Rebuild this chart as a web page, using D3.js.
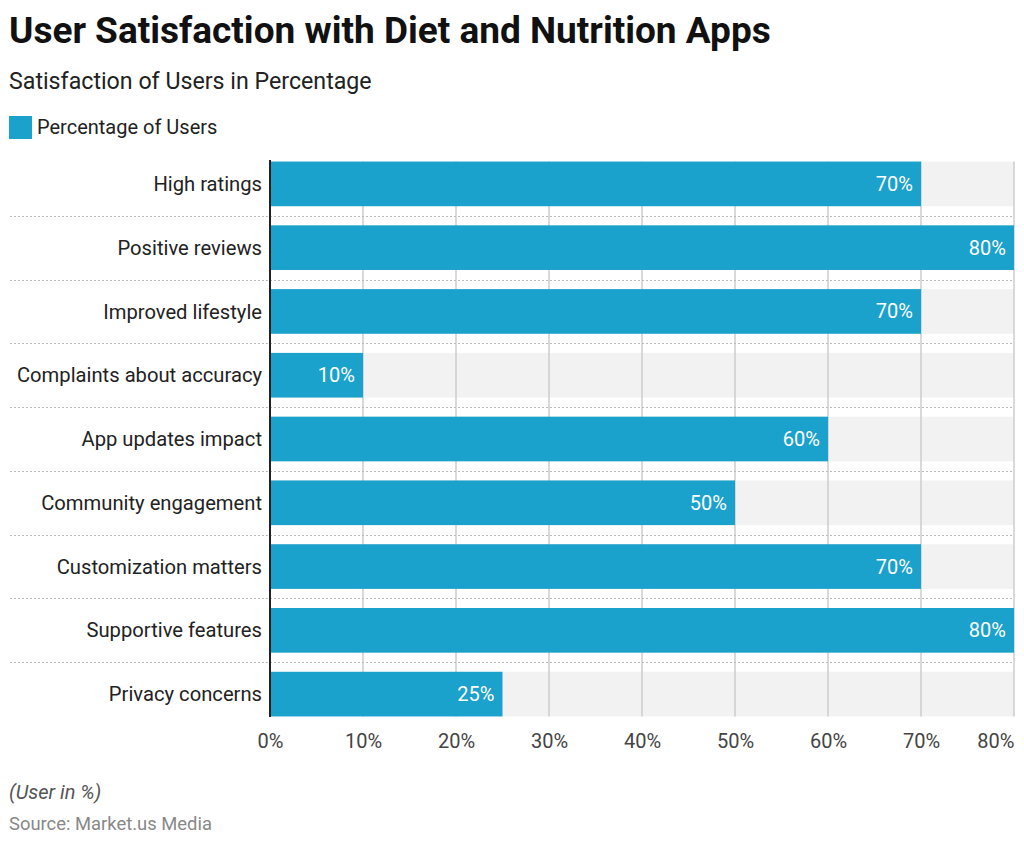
<!DOCTYPE html>
<html>
<head>
<meta charset="utf-8">
<script src="https://cdn.jsdelivr.net/npm/d3@7"></script>
<style>
  body { margin: 0; background: #fff; font-family: Roboto, sans-serif; }
</style>
</head>
<body>
<div id="chart"></div>
<script>
// data
const categories = ["High ratings", "Positive reviews", "Improved lifestyle", "Complaints about accuracy",
  "App updates impact", "Community engagement", "Customization matters", "Supportive features", "Privacy concerns"];
const values = [70, 80, 70, 10, 60, 50, 70, 80, 25];
const xTicks = [0, 10, 20, 30, 40, 50, 60, 70, 80];
const seriesName = "Percentage of Users";

const W = 1024, H = 843;
const margin = { top: 152, right: 10, bottom: 117, left: 270 };
const barColor = "#1aa1cc";

const svg = d3.select("#chart").append("svg")
  .attr("width", W).attr("height", H)
  .style("font-family", "Roboto, sans-serif");

// titles
svg.append("text").attr("x", 9).attr("y", 43)
  .attr("font-size", 37).attr("font-weight", 700).attr("fill", "#111")
  .text("User Satisfaction with Diet and Nutrition Apps");
svg.append("text").attr("x", 9).attr("y", 89)
  .attr("font-size", 23.2).attr("fill", "#222")
  .text("Satisfaction of Users in Percentage");

// legend
svg.append("rect").attr("x", 9).attr("y", 116).attr("width", 23).attr("height", 23).attr("fill", barColor);
svg.append("text").attr("x", 37).attr("y", 134)
  .attr("font-size", 20).attr("fill", "#222").text(seriesName);

const x = d3.scaleLinear().domain([0, 80]).range([margin.left, W - margin.right]);
const y = d3.scaleBand().domain(categories).range([margin.top, H - margin.bottom]).paddingInner(0.3).paddingOuter(0.15);

// background tracks
svg.append("g").selectAll("rect").data(categories).join("rect")
  .attr("x", x(0)).attr("y", d => y(d))
  .attr("width", x(80) - x(0)).attr("height", y.bandwidth())
  .attr("fill", "#f2f2f2");

// vertical grid
svg.append("g").selectAll("line").data(xTicks.slice(1)).join("line")
  .attr("x1", d => x(d)).attr("x2", d => x(d))
  .attr("y1", y(categories[0])).attr("y2", y(categories[categories.length - 1]) + y.bandwidth())
  .attr("stroke", "#cccccc").attr("stroke-width", 1.5);

// dotted row separators
const sep = categories.slice(1).map(d => y(d) - y.step() * y.paddingInner() / 2);
svg.append("g").selectAll("line").data(sep).join("line")
  .attr("x1", 10).attr("x2", x(80))
  .attr("y1", d => Math.round(d) + 0.5).attr("y2", d => Math.round(d) + 0.5)
  .attr("stroke", "#bbb").attr("stroke-width", 1).attr("stroke-dasharray", "2,2");

// bars
svg.append("g").selectAll("rect").data(values).join("rect")
  .attr("x", x(0)).attr("y", (d, i) => y(categories[i]))
  .attr("width", d => x(d) - x(0)).attr("height", y.bandwidth())
  .attr("fill", barColor);

// value labels
svg.append("g").selectAll("text").data(values).join("text")
  .attr("x", d => x(d) - 8)
  .attr("y", (d, i) => y(categories[i]) + y.bandwidth() / 2)
  .attr("dy", "0.35em").attr("text-anchor", "end")
  .attr("font-size", 20).attr("fill", "#fff")
  .text(d => d + "%");

// category labels
svg.append("g").selectAll("text").data(categories).join("text")
  .attr("x", margin.left - 8)
  .attr("y", d => y(d) + y.bandwidth() / 2)
  .attr("dy", "0.35em").attr("text-anchor", "end")
  .attr("font-size", 20.2).attr("fill", "#222")
  .text(d => d);

// axis line
svg.append("line")
  .attr("x1", x(0)).attr("x2", x(0))
  .attr("y1", margin.top + 8).attr("y2", H - margin.bottom - 9)
  .attr("stroke", "#222").attr("stroke-width", 2);

// x axis
const xAxis = svg.append("g")
  .attr("transform", `translate(0,${H - margin.bottom})`)
  .call(d3.axisBottom(x).tickValues(xTicks).tickFormat(d => d + "%").tickSize(0).tickPadding(8));
xAxis.select(".domain").remove();
xAxis.selectAll("text").attr("font-size", 20).attr("fill", "#444").attr("font-family", "Roboto, sans-serif")
  .attr("text-anchor", d => d === 80 ? "end" : "middle");

// footer
svg.append("text").attr("x", 9).attr("y", 799)
  .attr("font-size", 20).attr("font-style", "italic").attr("fill", "#555").text("(User in %)");
svg.append("text").attr("x", 9).attr("y", 830)
  .attr("font-size", 18.4).attr("fill", "#888").text("Source: Market.us Media");
</script>
</body>
</html>
